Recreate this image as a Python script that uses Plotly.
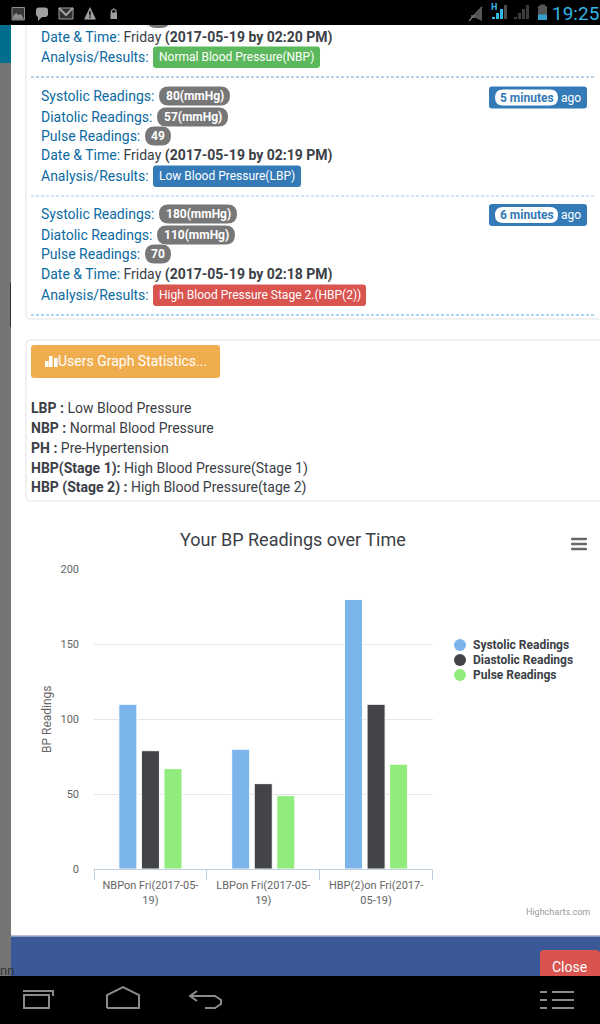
import plotly.graph_objects as go

# chart data
categories = ['NBPon Fri(2017-05-<br>19)', 'LBPon Fri(2017-05-<br>19)', 'HBP(2)on Fri(2017-<br>05-19)']
systolic = [110, 80, 180]
diastolic = [79, 57, 110]
pulse = [67, 49, 70]
series_names = ['Systolic Readings', 'Diastolic Readings', 'Pulse Readings']
series_colors = ['#7cb5ec', '#434348', '#90ed7d']
y_ticks = [0, 50, 100, 150, 200]

LINK = '#0a6aa1'
DARK = '#3b4046'
FONT = 'Roboto'
W, H = 600, 1024

shapes = []
notes = []


def px(x):
    return x / W


def py(y):
    return 1 - y / H


def rect(x0, y0, x1, y1, fill, layer='below', line=None):
    shapes.append(dict(type='rect', xref='paper', yref='paper', x0=px(x0), x1=px(x1), y0=py(y0), y1=py(y1),
                       fillcolor=fill, line=dict(color=line or fill, width=1 if line else 0), layer=layer))


def path(points, color=None, fill=None, width=1.5, close=False, layer='above'):
    d = 'M' + ' L'.join(f'{px(x)},{py(y)}' for x, y in points) + (' Z' if close else '')
    shapes.append(dict(type='path', xref='paper', yref='paper', path=d, fillcolor=fill or 'rgba(0,0,0,0)',
                       line=dict(color=color or 'rgba(0,0,0,0)', width=width if color else 0), layer=layer))


def rounded(x0, y0, x1, y1, r, fill, line=None, layer='below'):
    X0, X1, Y0, Y1 = px(x0), px(x1), py(y0), py(y1)
    rx, ry = r / W, r / H
    d = (f'M{X0 + rx},{Y0} L{X1 - rx},{Y0} Q{X1},{Y0} {X1},{Y0 - ry} L{X1},{Y1 + ry} Q{X1},{Y1} {X1 - rx},{Y1} '
         f'L{X0 + rx},{Y1} Q{X0},{Y1} {X0},{Y1 + ry} L{X0},{Y0 - ry} Q{X0},{Y0} {X0 + rx},{Y0} Z')
    shapes.append(dict(type='path', xref='paper', yref='paper', path=d, fillcolor=fill,
                       line=dict(color=line or fill, width=1 if line else 0), layer=layer))


def dot(cx, cy, r, fill):
    shapes.append(dict(type='circle', xref='paper', yref='paper', x0=px(cx - r), x1=px(cx + r),
                       y0=py(cy + r), y1=py(cy - r), fillcolor=fill, line=dict(width=0), layer='above'))


def text(x, y, s, size=14, color=DARK, anchor='left', angle=0):
    notes.append(dict(x=px(x), y=py(y), xref='paper', yref='paper', text=s, showarrow=False, xanchor=anchor,
                      yanchor='middle', textangle=angle, borderpad=0, borderwidth=0,
                      font=dict(family=FONT, size=size, color=color)))


def badge(label, x, y, x1, value, color='#777777'):
    text(x, y, label, color=LINK)
    rounded(x1[0], y - 9.5, x1[1], y + 9.5, 9.5, color)
    text((x1[0] + x1[1]) / 2, y, f'<b>{value}</b>', size=12, color='white', anchor='center')


def result(y, label, x1, color):
    text(41, y, 'Analysis/Results:', color=LINK)
    rounded(153, y - 10.5, x1, y + 11, 3, color)
    text(159, y, label, size=12, color='white')


def stamp(y, minutes):
    rounded(489, y - 11, 587, y + 11, 3, '#337ab7')
    rounded(495, y - 8, 558, y + 8, 8, 'white')
    text(526.5, y, f'<b>{minutes} minutes</b>', size=12, color='#337ab7', anchor='center')
    text(561, y, 'ago', size=12, color='white')


def when(y, stamp_text):
    text(41, y, f'<span style="color:{LINK}">Date &amp; Time:</span> Friday <b>({stamp_text})</b>', color=DARK)


def dashed(y, color):
    shapes.append(dict(type='line', xref='paper', yref='paper', x0=px(31), x1=px(595), y0=py(y), y1=py(y),
                       line=dict(color=color, width=1, dash='3px,2px'), layer='below'))


def signal(x, colors):
    for i, (color, top) in enumerate(zip(colors, (17, 13, 9, 5))):
        rect(x + i * 4, top, x + i * 4 + 3, 19, color, layer='above')


# page behind the modal
rect(0, 25, 11, 976, '#757575')
rect(0, 25, 11, 63, '#006f8e')
rect(10, 283, 11, 327, '#333333')
text(0, 970, 'nn', size=13, color='#333333')

# first card
rounded(26, 10, 610, 319, 4, 'white', line='#e3e3e3')
rounded(147, 19, 170, 28, 9, '#777777')
when(37, '2017-05-19 by 02:20 PM')
result(57, 'Normal Blood Pressure(NBP)', 320, '#5cb85c')
dashed(77, '#6f9fd0')
badge('Systolic Readings:', 41, 96, (159, 230), '80(mmHg)')
badge('Diatolic Readings:', 41, 117, (157, 228), '57(mmHg)')
badge('Pulse Readings:', 41, 136, (145, 171), '49')
when(155, '2017-05-19 by 02:19 PM')
result(176, 'Low Blood Pressure(LBP)', 301, '#337ab7')
stamp(97.5, 5)
dashed(196, '#a9c8e6')
badge('Systolic Readings:', 41, 214, (159, 237), '180(mmHg)')
badge('Diatolic Readings:', 41, 235, (157, 235), '110(mmHg)')
badge('Pulse Readings:', 41, 254, (145, 171), '70')
when(274, '2017-05-19 by 02:18 PM')
result(295, 'High Blood Pressure Stage 2.(HBP(2))', 366, '#d9534f')
stamp(215, 6)
dashed(315, '#5ba8e0')

# second card
rounded(26, 340, 610, 501, 4, 'white', line='#e3e3e3')
rounded(31, 345, 220, 378, 3, '#f0ad4e')
for bx, bt in [(45, 361), (49, 356), (54, 358)]:
    rect(bx, bt, bx + 3.6, 367, 'white', layer='above')
text(58, 361, 'Users Graph Statistics...', color='white')
text(31, 408, '<b>LBP :</b> Low Blood Pressure')
text(31, 428, '<b>NBP :</b> Normal Blood Pressure')
text(31, 448, '<b>PH :</b> Pre-Hypertension')
text(31, 468, '<b>HBP(Stage 1):</b> High Blood Pressure(Stage 1)')
text(31, 487, '<b>HBP (Stage 2) :</b> High Blood Pressure(tage 2)')

# chart furniture
text(293, 539.5, 'Your BP Readings over Time', size=18, color=DARK, anchor='center')
for by in (538, 543, 548):
    rounded(571, by - 0.2, 587, by + 2.2, 1, '#666666', layer='above')
text(47, 719, 'BP Readings', size=12, color='#666666', anchor='center', angle=-90)
text(590, 912, 'Highcharts.com', size=9, color='#999999', anchor='right')
for name, color, ly in zip(series_names, series_colors, (645, 660, 675)):
    dot(460, ly, 6, color)
    text(473, ly, f'<b>{name}</b>', size=12, color=DARK)

# modal footer
rect(11, 935, 600, 936.5, '#b9c0d4')
rect(11, 936.5, 600, 976, '#3b5998')
rounded(540, 950, 600, 990, 4, '#d9534f')
text(569.5, 967, 'Close', color='white', anchor='center')

# android bars, drawn on top of everything
rect(0, 0, 600, 25, 'black', layer='above')
rect(0, 976, 600, 1024, 'black', layer='above')
ICON = '#8c8c8c'
rect(12, 7.5, 24.5, 20, '#3a3a3a', layer='above', line=ICON)
path([(13, 19.5), (13, 16), (16, 13), (19, 15), (21, 14), (24, 19.5)], fill=ICON)
rounded(36, 7.5, 48, 17, 3, '#a0a0a0', layer='above')
path([(38, 16), (38, 21), (43, 16)], fill='#a0a0a0')
rect(59, 8, 73, 19, '#303030', layer='above', line='#a0a0a0')
path([(59, 8), (66, 15), (73, 8)], color='#a0a0a0', width=2)
path([(84, 19.5), (90, 7), (96, 19.5)], fill='#a0a0a0', close=True)
rect(89.3, 11, 90.7, 15.5, 'black', layer='above')
rect(89.3, 16.5, 90.7, 18, 'black', layer='above')
rect(110.5, 12.5, 117, 19, '#a0a0a0', layer='above')
path([(111.5, 13), (111.5, 10.5), (113.7, 9), (116, 10.5), (116, 13)], color='#a0a0a0', width=1.2)
path([(471, 15), (476, 15), (482, 8), (482, 21), (476, 18), (471, 18)], fill='#555555', close=True)
path([(469, 21), (482, 7)], color='#777777', width=1.2)
text(491, 7, '<b>H</b>', size=9, color='#33b5e5')
signal(492, ['#33b5e5', '#33b5e5', '#33b5e5', '#4a4a4a'])
signal(514, ['#3c3c3c', '#3c3c3c', '#3c3c3c', '#3c3c3c'])
rect(538, 6, 547, 20, '#555555', layer='above')
rect(540, 4.5, 545, 6, '#555555', layer='above')
rect(538, 14.5, 547, 20, '#33a0cc', layer='above')
text(575, 13, '19:25', size=19, color='#33b5e5', anchor='center')
NAV = '#8a8a8a'
path([(23, 991), (53, 991), (53, 996)], color=NAV, width=2)
rect(24, 995, 49, 1008, 'rgba(0,0,0,0)', layer='above', line=NAV)
shapes[-1]['line']['width'] = 2
path([(107, 1008), (107, 995), (123, 987), (139, 995), (139, 1008), (107, 1008)], color=NAV, width=2)
path([(197, 991), (190, 996), (197, 1001)], color=NAV, width=2)
path([(190, 996), (215, 996), (221, 1000), (221, 1004), (215, 1008), (205, 1008)], color=NAV, width=2)
for ny in (992, 1000, 1008):
    rect(540, ny - 1, 547, ny + 1, NAV, layer='above')
    rect(552, ny - 1, 574, ny + 1, NAV, layer='above')

fig = go.Figure()
for name, values, color in zip(series_names, [systolic, diastolic, pulse], series_colors):
    fig.add_trace(go.Bar(name=name, x=categories, y=values, marker=dict(color=color, line=dict(color='white', width=1))))

fig.update_layout(
    width=W, height=H, margin=dict(l=0, r=0, t=0, b=0, autoexpand=False), paper_bgcolor='white',
    plot_bgcolor='rgba(0,0,0,0)', barmode='group', bargap=0.4, bargroupgap=0.2, showlegend=False,
    shapes=shapes, annotations=notes, font=dict(family=FONT),
)
fig.update_xaxes(
    domain=[px(94), px(432.5)], type='category', range=[-0.5, 2.5], tickson='boundaries', ticks='outside', ticklen=10,
    tickcolor='#c0d0e0', linecolor='#c0d0e0', showline=True, showgrid=False, anchor='y', automargin=False,
    tickfont=dict(family=FONT, size=11, color='#666666'), tickangle=0, ticklabelstandoff=6,
)
fig.update_yaxes(
    domain=[py(869), py(569.5)], range=[0, 200], tickvals=y_ticks, gridcolor='#e6e6e6', zeroline=False,
    automargin=False, ticklabelstandoff=14, tickfont=dict(family=FONT, size=11, color='#666666'),
)

fig.write_html('out.html', config=dict(displayModeBar=False),
               post_script="document.body.style.margin='0';document.body.style.background='white';")
